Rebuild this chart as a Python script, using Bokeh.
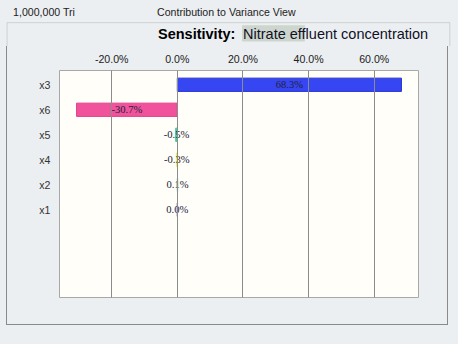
from bokeh.plotting import figure
from bokeh.layouts import column, row
from bokeh.models import (Range1d, FixedTicker, PrintfTickFormatter, Label,
                          BoxAnnotation, ColumnDataSource)
from bokeh.embed import file_html
from bokeh.resources import INLINE

# ---- data ----
categories = ["x3", "x6", "x5", "x4", "x2", "x1"]
contributions = [68.3, -30.7, -0.5, -0.3, 0.1, 0.0]
bar_colors = ["#3646f2", "#f0529c", "#3fcf9f", "#f2f040", "#60c8e0", "#a060c0"]
bar_lines = ["#2433d0", "#e04088", "#3fcf9f", "#f2f040", "#60c8e0", "#a060c0"]
x_ticks = [-20, 0, 20, 40, 60]

FONT = "Liberation Sans"
GRAY_BG = "#eceff1"
BORDER = "#8a8a8a"
SMALL = "10.6px"
BIG = "14.5px"

# ---------------- header (window strip + panel title) ----------------
h = figure(width=458, height=46, output_backend="svg", toolbar_location=None,
           x_range=Range1d(0, 474), y_range=Range1d(48.13, 0),
           x_axis_type=None, y_axis_type=None,
           min_border_left=0, min_border_right=0, min_border_top=0,
           min_border_bottom=0)
h.background_fill_color = GRAY_BG
h.border_fill_color = GRAY_BG
h.outline_line_color = None
h.grid.grid_line_color = None

h.add_layout(BoxAnnotation(left=6.8, right=465, top=23.2, bottom=100,
                           fill_color=None, line_color=BORDER, line_width=1))
h.add_layout(BoxAnnotation(left=250, right=315, top=26, bottom=43,
                           fill_color="#cdd6cc", fill_alpha=1.0, line_color=None))

def hlab(x, y, text, size, bold=False, color="#111111"):
    h.add_layout(Label(x=x, y=y, text=text, text_font=FONT, text_font_size=size,
                       text_font_style="bold" if bold else "normal",
                       text_color=color, text_baseline="middle",
                       text_align="left"))

hlab(13, 12.5, "1,000,000 Tri", SMALL, color="#222222")
hlab(162, 12.5, "Contribution to Variance View", SMALL, color="#222222")
hlab(163, 35.5, "Sensitivity:", BIG, bold=True, color="#000000")
hlab(251, 35.5, "Nitrate effluent concentration", BIG, color="#101028")

# ---------------- main chart ----------------
rows = list(range(len(categories)))
src = ColumnDataSource(dict(
    y=rows,
    right=contributions,
    mid=[v / 2 for v in contributions],
    color=bar_colors,
    line=bar_lines,
    label=[f"{v:.1f}%" for v in contributions],
))

p = figure(width=442, height=279, output_backend="svg", toolbar_location=None,
           x_range=Range1d(-35.9, 73.5), y_range=Range1d(8.51, -0.57),
           x_axis_location="above",
           min_border_left=52, min_border_right=31, min_border_top=24,
           min_border_bottom=28)
p.margin = (0, 0, 0, 6)
p.styles = {"border-left": f"1px solid {BORDER}",
            "border-right": f"1px solid {BORDER}",
            "border-bottom": f"1px solid {BORDER}"}

p.background_fill_color = "#fffef9"
p.border_fill_color = GRAY_BG
p.outline_line_color = "#a8a8a8"
p.outline_line_width = 1

xa = p.xaxis[0]
xa.ticker = FixedTicker(ticks=x_ticks)
xa.formatter = PrintfTickFormatter(format="%.1f%%")
xa.axis_line_color = None
xa.major_tick_line_color = None
xa.minor_tick_line_color = None
xa.major_tick_out = 0
xa.major_tick_in = 0
xa.major_label_standoff = 6
xa.major_label_text_font = FONT
xa.major_label_text_font_size = SMALL
xa.major_label_text_color = "#222222"

ya = p.yaxis[0]
ya.ticker = FixedTicker(ticks=rows)
ya.major_label_overrides = {i: c for i, c in enumerate(categories)}
ya.axis_line_color = None
ya.major_tick_line_color = None
ya.minor_tick_line_color = None
ya.major_tick_out = 0
ya.major_tick_in = 0
ya.major_label_standoff = 9
ya.major_label_text_font = FONT
ya.major_label_text_font_size = SMALL
ya.major_label_text_color = "#333333"

p.xgrid.grid_line_color = "#8c8c8c"
p.xgrid.grid_line_width = 1
p.xgrid.level = "overlay"
p.ygrid.grid_line_color = None

p.hbar(y="y", left=0, right="right", height=0.53, fill_color="color",
       line_color="line", source=src)

p.text(x="mid", y="y", text="label", text_align="center",
       text_baseline="middle", text_font_size=SMALL,
       text_color="#222238", text_font=FONT, source=src)

# ---------------- footer strip ----------------
f = figure(width=458, height=19, output_backend="svg", toolbar_location=None,
           x_axis_type=None, y_axis_type=None,
           min_border_left=0, min_border_right=0, min_border_top=0,
           min_border_bottom=0)
f.background_fill_color = GRAY_BG
f.border_fill_color = GRAY_BG
f.outline_line_color = None
f.grid.grid_line_color = None

layout = column(row(h), row(p), row(f), spacing=0,
                styles={"background-color": GRAY_BG})

open("out.html", "w").write(file_html(layout, INLINE))
